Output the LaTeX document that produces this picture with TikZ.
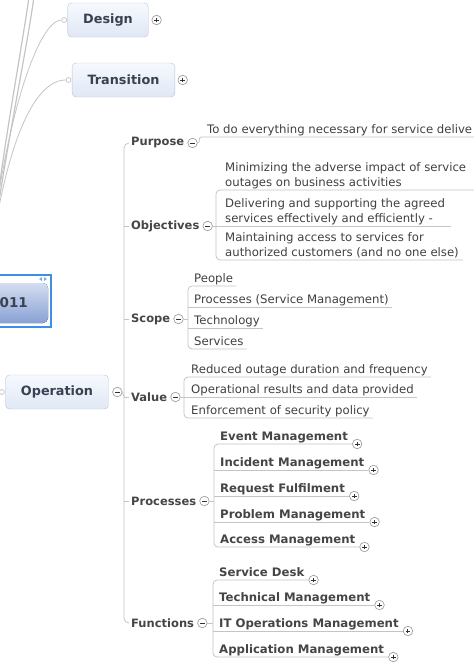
\documentclass[tikz,border=0pt]{standalone}
\usepackage{fontspec}
\setmainfont{DejaVu Sans}
\usetikzlibrary{positioning}
\definecolor{linkgray}{HTML}{C4C4C4}
\definecolor{leaftext}{HTML}{404040}
\definecolor{subtext}{HTML}{454545}
\definecolor{boxline}{HTML}{B7C4D7}
\definecolor{boxtop}{HTML}{F6F9FE}
\definecolor{boxbot}{HTML}{E0E8F5}
\definecolor{topictext}{HTML}{3A4150}
\definecolor{foldline}{HTML}{A0A0A0}
\definecolor{rootblue}{HTML}{3D8EE8}
\definecolor{roottop}{HTML}{D5DDEF}
\definecolor{rootbot}{HTML}{88A1D5}
\tikzset{
  link/.style={draw=linkgray, line width=0.8pt},
  trunk/.style={draw=linkgray, line width=1.2pt},
  topic/.style={draw=boxline, rounded corners=4pt, top color=boxtop, bottom color=boxbot,
    text=topictext, font=\bfseries\fontsize{12.8}{15}\selectfont, inner xsep=15.5pt, minimum height=34pt},
  sub/.style={anchor=west, inner xsep=2pt, inner ysep=0pt, text=subtext, font=\bfseries\fontsize{11.5}{14}\selectfont},
  leaf/.style={anchor=south west, inner sep=0pt, text depth=3.8pt, align=left, text=leaftext,
    font=\fontsize{11.7}{15}\selectfont},
  bleaf/.style={leaf, text=subtext, font=\bfseries\fontsize{11.7}{15}\selectfont},
  fold/.style={circle, draw=foldline, fill=white, line width=0.7pt, minimum size=9.5pt, inner sep=0pt},
  minus/.style={fold, path picture={\draw[line width=1pt, black!80]
    ([xshift=-2.4pt]path picture bounding box.center) -- ([xshift=2.4pt]path picture bounding box.center);}},
  plus/.style={fold, path picture={\draw[line width=1pt, black!80]
    ([xshift=-2.4pt]path picture bounding box.center) -- ([xshift=2.4pt]path picture bounding box.center)
    ([yshift=-2.4pt]path picture bounding box.center) -- ([yshift=2.4pt]path picture bounding box.center);}},
  dock/.style={circle, draw=linkgray, fill=white, line width=0.7pt, minimum size=5pt, inner sep=0pt},
}
\begin{document}
\begin{tikzpicture}[x=1pt,y=-1pt]
\useasboundingbox (0,0) rectangle (474,667);
\coordinate (hub) at (-12,276);
\coordinate (hubs) at (-12,327);
\coordinate (up1) at (29,-3);
\coordinate (up2) at (34,-3);
\coordinate (edge) at (476,0);
\node[draw=rootblue, fill=white, line width=1.2pt, minimum width=64pt, minimum height=52pt] (root) at (19,301) {};
\fill[top color=roottop, bottom color=rootbot, rounded corners=5pt] (-14,283) rectangle (48,323);
\node[anchor=east, inner sep=0pt, text=topictext, font=\bfseries\fontsize{13.5}{16}\selectfont] (rootlabel) at (28,303) {011};
\fill[rootblue!70] (39,279) -- (42,277) -- (42,281) -- cycle;
\fill[rootblue!70] (44,277) -- (47,279) -- (44,281) -- cycle;
\node[topic] (des) at (108,20) {Design};
\node[topic] (tra) at (123.5,80) {Transition};
\node[topic] (ope) at (57,392) {Operation};
\node[dock, left=0.5pt of des] (desdock) {};
\node[dock, left=0.5pt of tra] (tradock) {};
\node[dock, left=0.5pt of ope] (opedock) {};
\node[plus, right=3pt of des] (desf) {};
\node[plus, right=2.5pt of tra] (traf) {};
\node[minus, right=3.5pt of ope] (opef) {};
\draw[trunk] (up1) .. controls (20,60) and (2,150) .. (hub);
\draw[trunk] (up2) .. controls (25,60) and (5,150) .. (hub);
\draw[link] (desdock) .. controls (40,20) and (5,110) .. (hub);
\draw[link] (tradock) .. controls (35,80) and (5,140) .. (hub);
\draw[link] (hubs) .. controls (-12,380) and (-8,392) .. (opedock);

\coordinate (opspine) at (124,0);
\node[sub] (pur) at (129,143) {Purpose};
\node[sub] (obj) at (129,226) {Objectives};
\node[sub] (sco) at (129,319) {Scope};
\node[sub] (val) at (129,397) {Value};
\node[sub] (pro) at (129,501) {Processes};
\node[sub] (fun) at (129,623) {Functions};
\foreach \x in {pur,obj,sco,val,pro,fun}
  \node[minus, right=1pt of \x] (\x f) {};
\draw[link, rounded corners=5pt] (pur.west) -- (pur -| opspine) -- (fun -| opspine) -- (fun.west);
\foreach \x in {obj,sco,val,pro}
  \draw[link] (\x -| opspine) -- (\x.west);
\draw[link] (opef.east) -- (val -| opspine);

\node[leaf] (pu1) at (207,137) {To do everything necessary for service delive};
\draw[link] (purf.east) to[out=0,in=180] ([xshift=-6pt]pu1.south west) -- (pu1.south -| edge);

\coordinate (objspine) at (216,0);
\node[leaf] (ob1) at (225,190) {Minimizing the adverse impact of service\\outages on business activities};
\node[leaf] (ob2) at (225,226) {Delivering and supporting the agreed\\services effectively and efficiently -};
\node[leaf] (ob3) at (225,260) {Maintaining access to services for\\authorized customers (and no one else)};
\draw[link, rounded corners=4pt] (ob1.south -| edge) -- (ob1.south -| objspine) -- (ob3.south -| objspine) -- ([xshift=4pt]ob3.south east);
\draw[link] (ob2.south -| objspine) -- ([xshift=6pt]ob2.south east);
\draw[link] (objf.east) -- (obj -| objspine);

\coordinate (scospine) at (188,0);
\node[leaf] (sc1) at (194,286) {People};
\node[leaf] (sc2) at (194,307) {Processes (Service Management)};
\node[leaf] (sc3) at (194,328) {Technology};
\node[leaf] (sc4) at (194,349) {Services};
\draw[link, rounded corners=4pt] ([xshift=3pt]sc1.south east) -- (sc1.south -| scospine) -- (sc4.south -| scospine) -- ([xshift=3pt]sc4.south east);
\foreach \x in {sc2,sc3}
  \draw[link] (\x.south -| scospine) -- ([xshift=3pt]\x.south east);
\draw[link] (scof.east) -- (sco -| scospine);

\coordinate (valspine) at (184,0);
\node[leaf] (va1) at (191,377) {Reduced outage duration and frequency};
\node[leaf] (va2) at (191,397) {Operational results and data provided};
\node[leaf] (va3) at (191,418) {Enforcement of security policy};
\draw[link, rounded corners=4pt] ([xshift=3pt]va1.south east) -- (va1.south -| valspine) -- (va3.south -| valspine) -- ([xshift=3pt]va3.south east);
\draw[link] (va2.south -| valspine) -- ([xshift=3pt]va2.south east);
\draw[link] (valf.east) -- (val -| valspine);

\coordinate (prospine) at (214,0);
\node[bleaf] (pr1) at (220,444) {Event Management};
\node[bleaf] (pr2) at (220,470) {Incident Management};
\node[bleaf] (pr3) at (220,496) {Request Fulfilment};
\node[bleaf] (pr4) at (220,522) {Problem Management};
\node[bleaf] (pr5) at (220,547) {Access Management};
\foreach \x in {pr1,pr2,pr3,pr4,pr5}
  \node[plus, right=4pt of \x.south east] (\x f) {};
\draw[link, rounded corners=4pt] (pr1f.west) -- (pr1.south -| prospine) -- (pr5.south -| prospine) -- (pr5f.west);
\foreach \x/\y in {pr2/pr2f,pr3/pr3f,pr4/pr4f}
  \draw[link] (\x.south -| prospine) -- (\y.west);
\draw[link] (prof.east) -- (pro -| prospine);

\coordinate (funspine) at (213,0);
\node[bleaf] (fu1) at (219,580) {Service Desk};
\node[bleaf] (fu2) at (219,605) {Technical Management};
\node[bleaf] (fu3) at (219,631) {IT Operations Management};
\node[bleaf] (fu4) at (219,657) {Application Management};
\foreach \x in {fu1,fu2,fu3,fu4}
  \node[plus, right=4pt of \x.south east] (\x f) {};
\draw[link, rounded corners=4pt] (fu1f.west) -- (fu1.south -| funspine) -- (fu4.south -| funspine) -- (fu4f.west);
\foreach \x/\y in {fu2/fu2f,fu3/fu3f}
  \draw[link] (\x.south -| funspine) -- (\y.west);
\draw[link] (funf.east) -- (fun -| funspine);
\end{tikzpicture}
\end{document}
